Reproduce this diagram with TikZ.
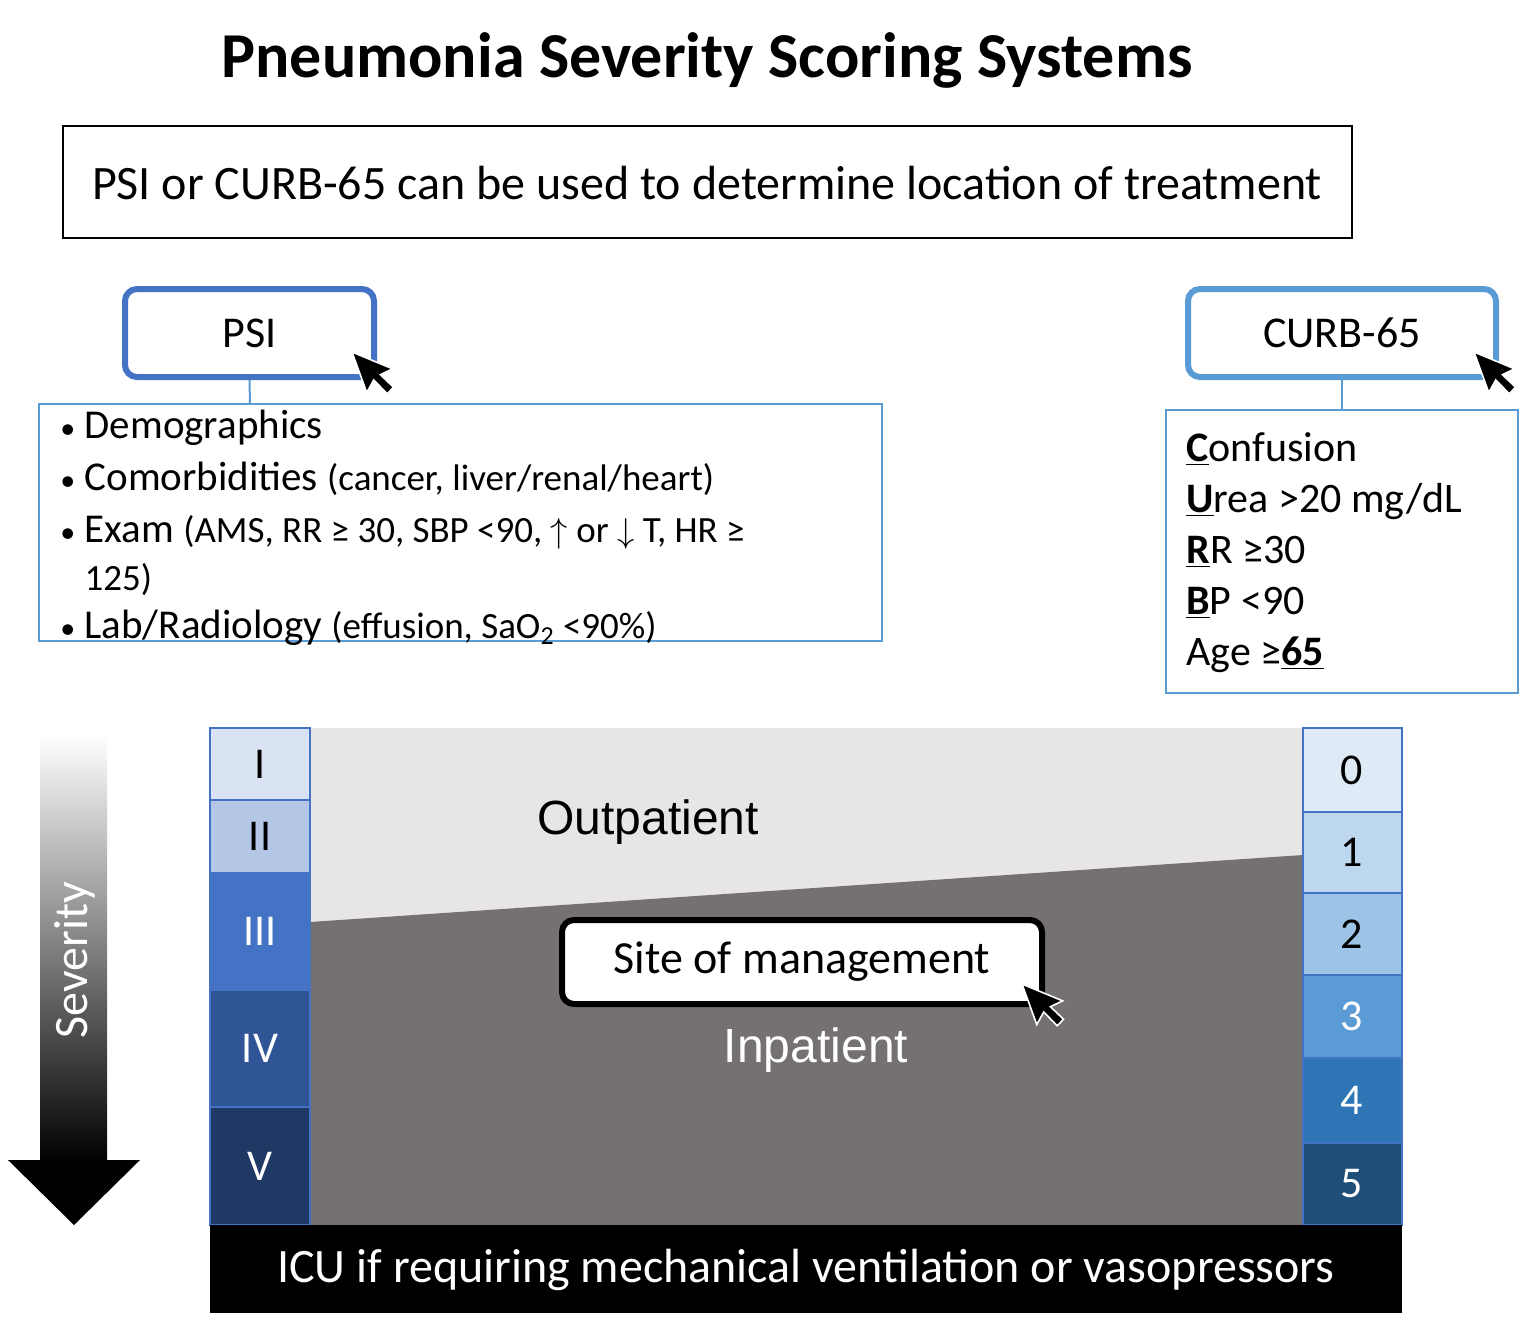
\documentclass[tikz,border=0pt]{standalone}
\usepackage{fontspec}
\setmainfont{Carlito}
\newfontfamily\arialfont{Liberation Sans}
\usetikzlibrary{positioning}
\definecolor{psiblue}{RGB}{68,114,196}
\definecolor{curbblue}{RGB}{91,155,213}
\definecolor{lightgrayarea}{RGB}{231,229,230}
\definecolor{darkgrayarea}{RGB}{118,113,113}
\definecolor{psiA}{RGB}{218,227,243}
\definecolor{psiB}{RGB}{180,199,231}
\definecolor{psiC}{RGB}{68,114,196}
\definecolor{psiD}{RGB}{47,85,151}
\definecolor{psiE}{RGB}{31,56,100}
\definecolor{curbA}{RGB}{222,235,247}
\definecolor{curbB}{RGB}{189,215,238}
\definecolor{curbC}{RGB}{157,195,230}
\definecolor{curbD}{RGB}{91,155,213}
\definecolor{curbE}{RGB}{46,117,182}
\definecolor{curbF}{RGB}{31,78,121}
\newcommand{\fs}[1]{\fontsize{#1}{1.15\dimexpr#1pt\relax}\selectfont}
\newcommand{\paren}{\fontsize{18.5}{24}\selectfont}
\newcommand{\bul}{{\fontsize{15}{24}\selectfont\textbullet}\ }
\newcommand{\mousecursor}[1]{%
  \draw[white,line width=0.8pt,fill=black,shift={(#1)},rotate=20,scale=2.7]
    (0,0) -- (0,16) -- (4,12.5) -- (7,19) -- (10,17.5) -- (7,11.5) -- (12,11) -- cycle;}

\begin{document}
\begin{tikzpicture}[x=0.5pt,y=-0.5pt,
  headerbox/.style={draw,rounded corners=6pt,line width=3pt,fill=white,inner sep=0pt},
  cell/.style={minimum width=50pt,inner sep=0pt,font=\fs{22}},
  listbox/.style={draw=curbblue,line width=1pt}]
\useasboundingbox (0,0) rectangle (1536,1328);

% title and top box
\node[font=\bfseries\fs{32}] (title) at (707,60) {Pneumonia Severity Scoring Systems};
\draw[line width=1pt] (63,126) rectangle (1352,238);
\node[font=\fs{24}] (intro) at (707,183) {PSI or CURB-65 can be used to determine location of treatment};

% PSI
\node[headerbox,draw=psiblue,minimum width=124.5pt,minimum height=44pt,font=\fs{22}] (psi) at (249.5,333) {PSI};
\mousecursor{352,352}
\draw[listbox] (39,404) rectangle (882,641);
\coordinate (psilist) at (250,404);
\draw[curbblue,line width=1pt] (psi.south) -- (psilist);
\node[anchor=north west,align=left,font=\fontsize{20.5}{24}\selectfont,inner sep=0pt] (psitext) at (60,410) {%
  \bul Demographics\\[2pt]
  \bul Comorbidities {\paren(cancer, liver/renal/heart)}\\[2pt]
  \bul Exam {\paren(AMS, RR ≥ 30, SBP <90, $\uparrow$ or $\downarrow$ T, HR ≥}\\
  \phantom{\bul}{\paren 125)}\\
  \bul Lab/Radiology {\paren(effusion, SaO\textsubscript{2} <90\%)}};

% CURB-65
\node[headerbox,draw=curbblue,minimum width=154pt,minimum height=44pt,font=\fs{22}] (curb) at (1342,333) {CURB-65};
\mousecursor{1474,352}
\draw[listbox] (1166,410) rectangle (1518,693);
\coordinate (curblist) at (1342,410);
\draw[curbblue,line width=1pt] (curb.south) -- (curblist);
\node[anchor=north west,align=left,font=\fontsize{21}{25.5}\selectfont,inner sep=0pt] (curbtext) at (1186,432) {%
  \underline{\textbf{C}}onfusion\\
  \underline{\textbf{U}}rea >20 mg/dL\\
  \underline{\textbf{R}}R ≥30\\
  \underline{\textbf{B}}P <90\\
  Age ≥\underline{\textbf{65}}};

% severity arrow
\shade[top color=white,bottom color=black] (40,735) rectangle (107,1162);
\fill (8,1160) -- (140,1160) -- (74,1225) -- cycle;
\node[white,rotate=90,font=\fs{24}] (severity) at (75,960) {Severity};

% site of management area
\fill[lightgrayarea] (310,728) rectangle (1303,922);
\fill[darkgrayarea] (310,922) -- (1303,855) -- (1303,1225) -- (310,1225) -- cycle;
\node[font=\arialfont\fs{24}] (outpatient) at (648,822) {Outpatient};
\node[white,font=\arialfont\fs{24}] (inpatient) at (816,1050) {Inpatient};
\node[headerbox,draw=black,minimum width=240pt,minimum height=42pt,font=\fs{23}] (site) at (802,962) {Site of management};
\mousecursor{1022,984}

% PSI classes
\foreach \lab/\ya/\yb/\col/\tc in {I/728/800/psiA/black, II/800/873/psiB/black, III/873/990/psiC/white, IV/990/1107/psiD/white, V/1107/1225/psiE/white}{
  \draw[fill=\col,draw=psiC,line width=1pt] (210,\ya) rectangle (310,\yb);
  \node[cell,text=\tc] (psi\lab) at (260,{(\ya+\yb)/2}) {\lab};
}
% CURB-65 scores
\foreach \lab/\ya/\yb/\col/\tc in {0/728/812/curbA/black, 1/812/893/curbB/black, 2/893/975/curbC/black, 3/975/1058/curbD/white, 4/1058/1143/curbE/white, 5/1143/1225/curbF/white}{
  \draw[fill=\col,draw=psiC,line width=1pt] (1303,\ya) rectangle (1402,\yb);
  \node[cell,text=\tc] (score\lab) at (1352,{(\ya+\yb)/2}) {\lab};
}

% ICU bar
\fill (210,1225) rectangle (1402,1313);
\node[white,font=\fs{24}] (icu) at (806,1270) {ICU if requiring mechanical ventilation or vasopressors};
\end{tikzpicture}
\end{document}
